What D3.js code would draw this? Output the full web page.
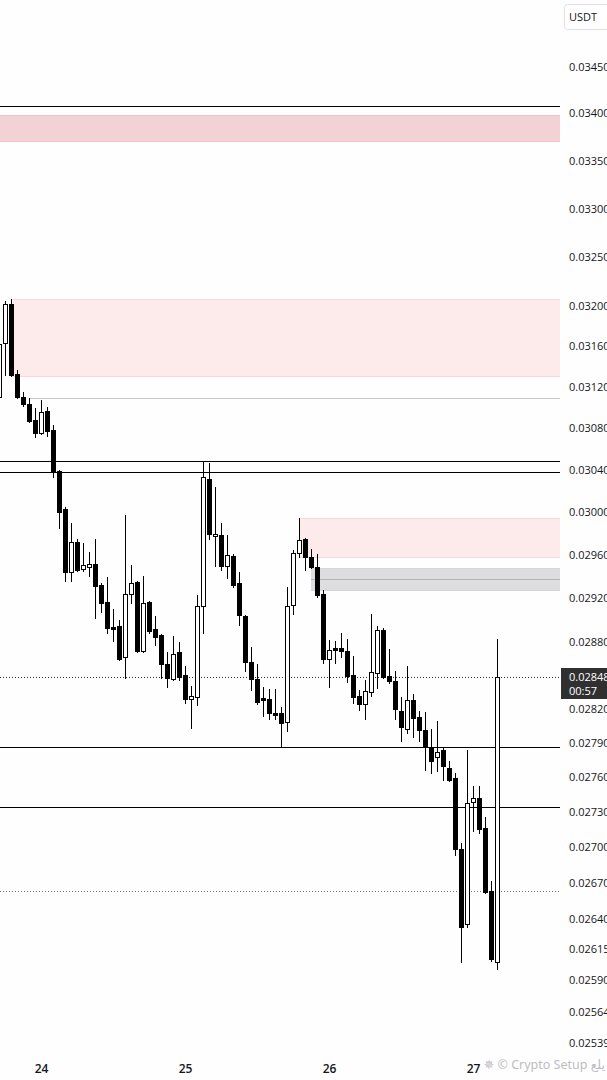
<!DOCTYPE html>
<html>
<head>
<meta charset="utf-8">
<script src="https://cdn.jsdelivr.net/npm/d3@7"></script>
<style>
  html, body { margin: 0; padding: 0; background: #ffffff; }
  svg { display: block; }
</style>
</head>
<body>
<div id="chart"></div>
<script>
// ---------- DATA ----------
// hourly candles; first candle is hour -7 relative to day "24" 00:00
const firstHour = -7;
const openValues = [
  0.031103, 0.031635, 0.032024, 0.031329, 0.031103, 0.031035, 0.030879,
  0.030754, 0.030966, 0.030783, 0.030389, 0.030027, 0.029439, 0.029719, 0.029467, 0.029485, 0.029513,
  0.02932, 0.029164, 0.02893, 0.028944, 0.028664, 0.029237, 0.029347, 0.028718, 0.029164, 0.028917,
  0.028863, 0.0286, 0.028465, 0.028709, 0.028501, 0.028288, 0.028306, 0.029127, 0.030313, 0.029775,
  0.029784, 0.029494, 0.029588, 0.029338, 0.029035, 0.028619, 0.028465, 0.028292, 0.028288, 0.02816,
  0.028164, 0.028084, 0.029136, 0.029616, 0.029747, 0.029578, 0.029485, 0.029237, 0.028646, 0.028741,
  0.028745, 0.028718, 0.028501, 0.028315, 0.028244, 0.02835, 0.028519, 0.028908, 0.028492, 0.028448,
  0.028182, 0.028022, 0.028279, 0.028128, 0.028013, 0.027865, 0.027777, 0.027838, 0.027681, 0.027594,
  0.026985, 0.026357, 0.027387, 0.027421, 0.027164, 0.026632, 0.026044
];
const highValues = [
  0.031665, 0.032054, 0.032074, 0.031368, 0.031152, 0.031093, 0.030995,
  0.031074, 0.031005, 0.030831, 0.030398, 0.030046, 0.029896, 0.029747, 0.029709, 0.029625, 0.029747,
  0.029338, 0.029393, 0.029099, 0.028998, 0.029971, 0.029504, 0.029357, 0.029403, 0.029173, 0.029035,
  0.028872, 0.028709, 0.028854, 0.0288, 0.028582, 0.028403, 0.029228, 0.030474, 0.030465, 0.030237,
  0.029896, 0.029784, 0.029606, 0.029439, 0.029044, 0.028754, 0.0286, 0.028394, 0.028377, 0.028377,
  0.028217, 0.029301, 0.029644, 0.029943, 0.029756, 0.029653, 0.029606, 0.029274, 0.028817, 0.028808,
  0.028881, 0.028826, 0.028673, 0.028368, 0.028457, 0.029053, 0.028944, 0.028926, 0.028736, 0.028537,
  0.028306, 0.028582, 0.028332, 0.028182, 0.028173, 0.028022, 0.028093, 0.027865, 0.027742, 0.027638,
  0.027036, 0.027838, 0.027524, 0.027524, 0.027259, 0.026716, 0.028826
];
const lowValues = [
  0.031074, 0.031319, 0.031309, 0.031093, 0.031015, 0.03086, 0.030715,
  0.030744, 0.030725, 0.030332, 0.029849, 0.029357, 0.029357, 0.029449, 0.029449, 0.029403, 0.029017,
  0.029072, 0.028881, 0.028808, 0.028637, 0.028474, 0.029154, 0.028709, 0.028709, 0.028881, 0.028772,
  0.028474, 0.028394, 0.028457, 0.028457, 0.028253, 0.028031, 0.028235, 0.028881, 0.029747, 0.029494,
  0.029458, 0.029384, 0.029301, 0.028953, 0.028537, 0.028368, 0.028244, 0.028137, 0.028111, 0.028111,
  0.027865, 0.028004, 0.029053, 0.029578, 0.029458, 0.029476, 0.02921, 0.028609, 0.028394, 0.028609,
  0.028664, 0.028439, 0.028253, 0.02819, 0.028111, 0.028315, 0.028386, 0.028474, 0.02843, 0.028111,
  0.027917, 0.027987, 0.027952, 0.027917, 0.027664, 0.027638, 0.027655, 0.027577, 0.027568, 0.026934,
  0.026044, 0.026333, 0.027139, 0.027122, 0.026615, 0.026052, 0.025986
];
const closeValues = [
  0.031626, 0.032024, 0.031319, 0.031103, 0.031035, 0.03087, 0.030754,
  0.030957, 0.030773, 0.030379, 0.029999, 0.029439, 0.029719, 0.029458, 0.029504, 0.029513, 0.029311,
  0.029154, 0.028926, 0.028921, 0.028646, 0.029237, 0.029338, 0.028718, 0.029154, 0.028899, 0.028845,
  0.0286, 0.028474, 0.028691, 0.028483, 0.028288, 0.028315, 0.029127, 0.030332, 0.029793, 0.029793,
  0.029494, 0.029597, 0.02932, 0.029044, 0.028619, 0.028465, 0.028261, 0.028284, 0.028164, 0.028151,
  0.028075, 0.029127, 0.029616, 0.029737, 0.029578, 0.029485, 0.029228, 0.028646, 0.028727, 0.028732,
  0.028718, 0.028492, 0.028306, 0.028244, 0.028359, 0.028528, 0.028908, 0.028483, 0.028448, 0.028199,
  0.02804, 0.028279, 0.028119, 0.028013, 0.027865, 0.027742, 0.027821, 0.027699, 0.027577, 0.026985,
  0.026333, 0.027378, 0.027421, 0.027156, 0.026624, 0.026069, 0.02848
];

const yTickValues = [0.0345, 0.034, 0.0335, 0.033, 0.0325, 0.032, 0.0316, 0.0312, 0.0308, 0.0304,
  0.03, 0.0296, 0.0292, 0.0288, 0.0282, 0.0279, 0.0276, 0.0273, 0.027, 0.0267, 0.0264, 0.02615,
  0.0259, 0.02564, 0.02539];
const dayTickHours = [0, 24, 48, 72];
const dayTickLabels = ["24", "25", "26", "27"];

const currentPrice = 0.02848;
const countdownText = "00:57";
const currencyLabel = "USDT";

// horizontal levels (price), zones (top, bottom, start hour)
const solidLevels = [0.03408, 0.030481, 0.030376, 0.027862, 0.027342];
const dottedLevels = [0.026632];
const zoneTops =    [0.033984, 0.032074, 0.02994,  0.029476];
const zoneBottoms = [0.033707, 0.031309, 0.029576, 0.029277];
const zoneStarts =  [-7.5, -4.7, 43.15, 45];
const zoneKinds =   ["strong", "light", "light", "grey"];
const thinLevelPrice = 0.031093;
const thinLevelStart = -2;
const greyMidPrice = 0.029375;

// ---------- CHART ----------
const W = 607, H = 1080;
const plotRight = 560;

const svg = d3.select("#chart").append("svg")
  .attr("width", W).attr("height", H)
  .style("font-family", "Roboto, 'Noto Sans', sans-serif");

svg.append("rect").attr("width", W).attr("height", H).attr("fill", "#fffefe");

const x = d3.scaleLinear().domain([0, 72]).range([41, 473]);
const y = d3.scaleLog().domain([0.02539, 0.0345]).range([1042.9, 67]);
const crisp = v => Math.round(v) + 0.5;

const plot = svg.append("g");
plot.append("clipPath").attr("id", "clip").append("rect")
  .attr("x", 0).attr("y", 0).attr("width", plotRight).attr("height", 1050);
const g = plot.append("g").attr("clip-path", "url(#clip)");

// zones
const zoneFill = { strong: "#f3d2d5", light: "#fdeaea", grey: "#dddde0" };
const zoneStroke = { strong: "#eec3c7", light: "#f7d9dc", grey: "#d6d6da" };
zoneTops.forEach((t, i) => {
  const x0 = Math.max(0, x(zoneStarts[i]));
  const y0 = Math.round(y(t)), y1 = Math.round(y(zoneBottoms[i]));
  g.append("rect")
    .attr("x", x0).attr("y", y0)
    .attr("width", plotRight - x0).attr("height", y1 - y0)
    .attr("fill", zoneFill[zoneKinds[i]]);
  [y0, y1].forEach(yy => g.append("line")
    .attr("x1", x0).attr("x2", plotRight)
    .attr("y1", yy + 0.5).attr("y2", yy + 0.5)
    .attr("stroke", zoneStroke[zoneKinds[i]]).attr("stroke-width", 1));
});
// grey zone mid line
g.append("line")
  .attr("x1", x(zoneStarts[3])).attr("x2", plotRight)
  .attr("y1", crisp(y(greyMidPrice))).attr("y2", crisp(y(greyMidPrice)))
  .attr("stroke", "#b4b4b8").attr("stroke-width", 1);

// thin purple level
g.append("line")
  .attr("x1", x(thinLevelStart)).attr("x2", plotRight)
  .attr("y1", crisp(y(thinLevelPrice))).attr("y2", crisp(y(thinLevelPrice)))
  .attr("stroke", "#cbc3d3").attr("stroke-width", 1);

// solid levels
solidLevels.forEach(p => {
  g.append("line")
    .attr("x1", 0).attr("x2", plotRight)
    .attr("y1", crisp(y(p))).attr("y2", crisp(y(p)))
    .attr("stroke", "#000").attr("stroke-width", 1);
});

// dotted levels
dottedLevels.forEach(p => {
  g.append("line")
    .attr("x1", 0).attr("x2", plotRight)
    .attr("y1", crisp(y(p))).attr("y2", crisp(y(p)))
    .attr("stroke", "#777").attr("stroke-width", 1).attr("stroke-dasharray", "1,2");
});
// current price dotted line
g.append("line")
  .attr("x1", 0).attr("x2", plotRight)
  .attr("y1", crisp(y(currentPrice))).attr("y2", crisp(y(currentPrice)))
  .attr("stroke", "#333").attr("stroke-width", 1).attr("stroke-dasharray", "1,2");

// candles
const candles = openValues.map((o, i) => ({
  hour: firstHour + i, o, h: highValues[i], l: lowValues[i], c: closeValues[i]
}));

const cg = g.append("g");
candles.forEach(d => {
  const cx = Math.round(x(d.hour));
  cg.append("line")
    .attr("x1", cx + 0.5).attr("x2", cx + 0.5)
    .attr("y1", Math.round(y(d.h))).attr("y2", Math.round(y(d.l)) + 1)
    .attr("stroke", "#000").attr("stroke-width", 1);
  const up = d.c >= d.o;
  let top = Math.round(y(Math.max(d.o, d.c)));
  let bot = Math.round(y(Math.min(d.o, d.c)));
  if (bot - top < 2) bot = top + 2;
  cg.append("rect")
    .attr("x", cx - 1.5).attr("y", top + 0.5)
    .attr("width", 4).attr("height", bot - top)
    .attr("fill", up ? "#ffffff" : "#000000")
    .attr("stroke", "#000").attr("stroke-width", 1);
});

// y axis
const yAxis = d3.axisRight(y).tickValues(yTickValues)
  .tickFormat(d3.format(".5f")).tickSize(0).tickPadding(0);
const ya = svg.append("g").attr("transform", "translate(569,0)").call(yAxis);
ya.select(".domain").remove();
ya.selectAll("text")
  .attr("fill", "#131722").attr("font-size", "11px")
  .style("font-family", "'Open Sans', Roboto, sans-serif");

// x axis
const xAxis = d3.axisBottom(x).tickValues(dayTickHours)
  .tickFormat((d, i) => dayTickLabels[i]).tickSize(0).tickPadding(0);
const xa = svg.append("g").attr("transform", "translate(0,1064)").call(xAxis);
xa.select(".domain").remove();
xa.selectAll("text")
  .attr("fill", "#131722").attr("font-size", "12px").attr("font-weight", 600)
  .style("font-family", "'Open Sans', Roboto, sans-serif");

// currency box
svg.append("rect")
  .attr("x", 564.5).attr("y", 4.5).attr("width", 50).attr("height", 25).attr("rx", 3)
  .attr("fill", "#fff").attr("stroke", "#e0e0e6");
svg.append("text").attr("x", 569).attr("y", 21)
  .attr("font-size", "11px").attr("fill", "#131722")
  .style("font-family", "'Open Sans', Roboto, sans-serif")
  .text(currencyLabel);

// current price label
const cy = y(currentPrice);
svg.append("rect")
  .attr("x", 561).attr("y", Math.round(cy) - 9).attr("width", 46).attr("height", 31)
  .attr("fill", "#303030");
svg.append("text").attr("x", 569).attr("y", cy + 4)
  .attr("font-size", "11px").attr("fill", "#ffffff")
  .style("font-family", "'Open Sans', Roboto, sans-serif")
  .text(d3.format(".5f")(currentPrice));
svg.append("text").attr("x", 569).attr("y", cy + 18)
  .attr("font-size", "11px").attr("fill", "#ffffff")
  .style("font-family", "'Open Sans', Roboto, sans-serif")
  .text(countdownText);

// watermark
svg.append("text").attr("x", 605).attr("y", 1069)
  .attr("text-anchor", "end").attr("font-size", "12.5px").attr("fill", "#bdbdc2")
  .style("font-family", "'Noto Sans', 'DejaVu Sans', sans-serif")
  .text("\u2735 \u00a9 Crypto Setup \u064a\u0644\u0639");
</script>
</body>
</html>
